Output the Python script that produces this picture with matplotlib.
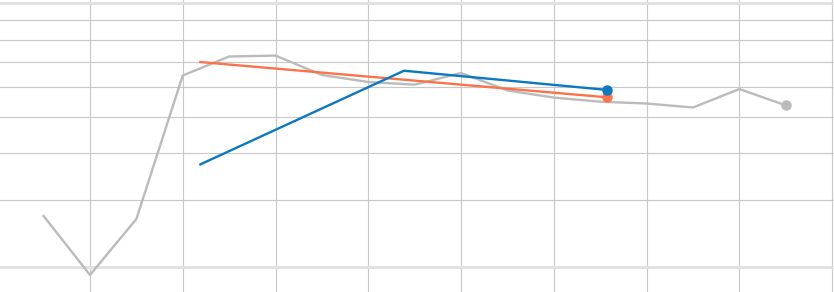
import matplotlib.pyplot as plt
from matplotlib.ticker import FixedLocator, NullFormatter

# gray series, one point per step
gray_x = list(range(17))
gray_y = [2.73, 1.905, 2.68, 6.43, 7.22, 7.26, 6.45, 6.18, 6.08, 6.53,
          5.87, 5.62, 5.48, 5.42, 5.29, 5.92, 5.36]

# orange and blue series
orange_x = [3.38, 12.14]
orange_y = [6.98, 5.63]
blue_x = [3.38, 7.77, 12.14]
blue_y = [3.74, 6.62, 5.89]

fig = plt.figure(figsize=(8.34, 2.92), dpi=100)
ax = fig.add_axes([0, 0, 1, 1])

ax.plot(gray_x, gray_y, color="#bbbbbb", lw=1.7, zorder=2)
ax.plot(gray_x[-1], gray_y[-1], "o", color="#bbbbbb", ms=6.5, zorder=2)
ax.plot(orange_x, orange_y, color="#fb7349", lw=1.7, zorder=3)
ax.plot(orange_x[-1], orange_y[-1], "o", color="#fb7349", ms=6.5, zorder=3)
ax.plot(blue_x, blue_y, color="#0b78c0", lw=1.7, zorder=4)
ax.plot(blue_x[-1], blue_y[-1], "o", color="#0b78c0", ms=6.5, zorder=4)

ax.set_yscale("log")
ax.set_ylim(1.717, 10.19)
ax.set_xlim(-0.94, 17.04)

ax.yaxis.set_major_locator(FixedLocator([2, 10]))
ax.yaxis.set_minor_locator(FixedLocator([3, 4, 5, 6, 7, 8, 9]))
ax.xaxis.set_major_locator(FixedLocator([1, 3, 5, 7, 9, 11, 13, 15, 17]))
ax.yaxis.set_major_formatter(NullFormatter())
ax.yaxis.set_minor_formatter(NullFormatter())
ax.xaxis.set_major_formatter(NullFormatter())

ax.grid(axis="y", which="major", color="#e2e2e2", lw=2.2)
ax.grid(axis="y", which="minor", color="#c8c8c8", lw=0.8)
ax.grid(axis="x", which="major", color="#c8c8c8", lw=0.8)
ax.tick_params(which="both", length=0)
for s in ax.spines.values():
    s.set_visible(False)
ax.set_axisbelow(True)

fig.savefig("out.png", dpi=100)
